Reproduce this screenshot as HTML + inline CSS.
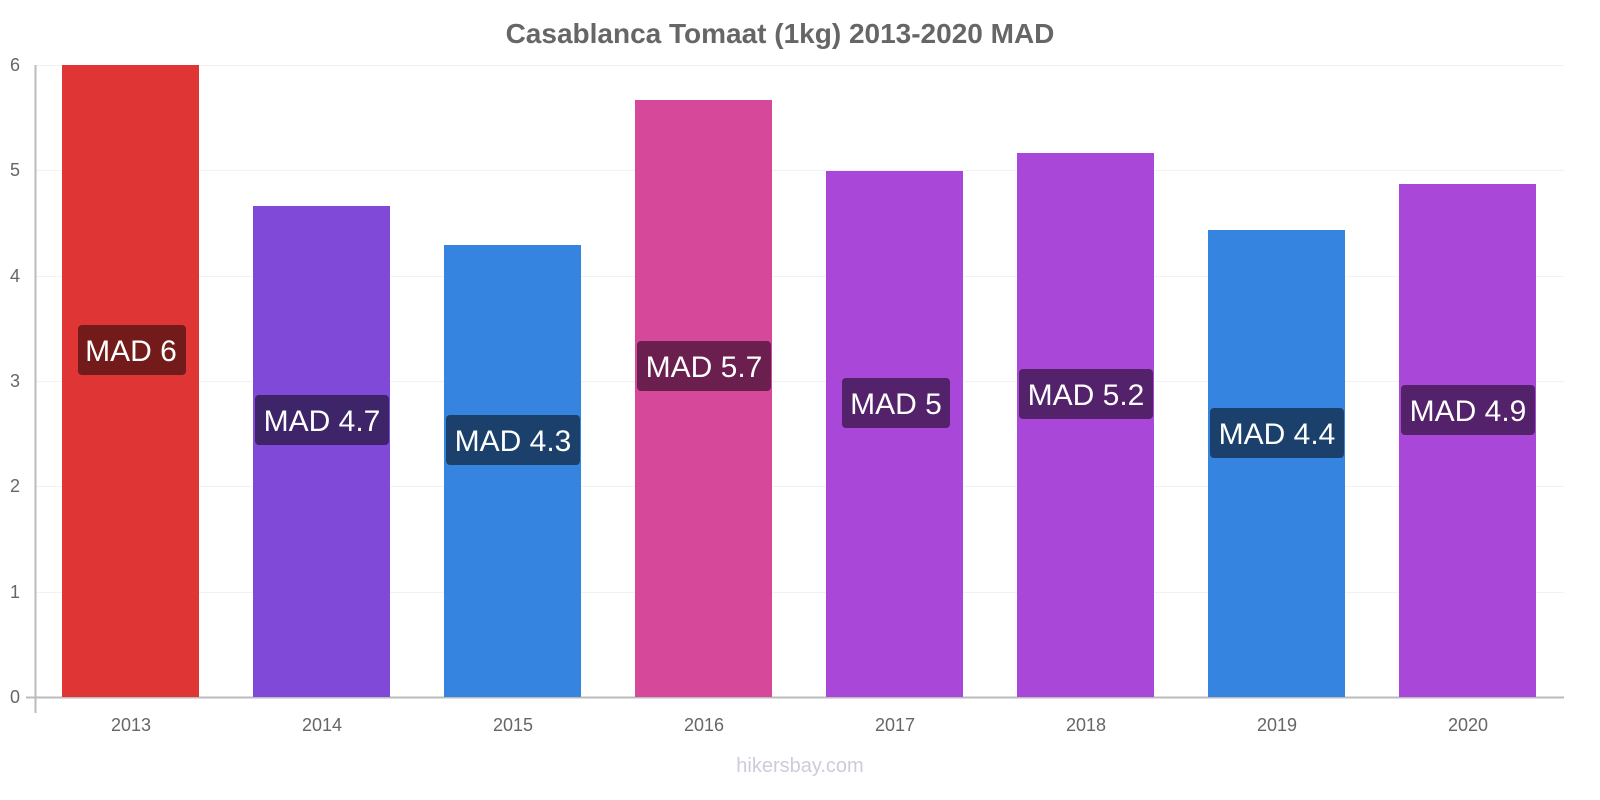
<!DOCTYPE html>
<html><head><meta charset="utf-8"><style>html,body{margin:0;padding:0;background:#fff;overflow:hidden;width:1600px;height:800px}svg{display:block;font-family:"Liberation Sans",sans-serif}</style></head><body>
<svg width="1600" height="800" xmlns="http://www.w3.org/2000/svg">
<text x="780" y="43" text-anchor="middle" font-size="28" font-weight="bold" fill="#666">Casablanca Tomaat (1kg) 2013-2020 MAD</text>
<g stroke="#f2f2f2" stroke-width="1">
<line x1="36" x2="1564" y1="65.5" y2="65.5"/><line x1="36" x2="1564" y1="170.5" y2="170.5"/><line x1="36" x2="1564" y1="276.5" y2="276.5"/><line x1="36" x2="1564" y1="381.5" y2="381.5"/><line x1="36" x2="1564" y1="486.5" y2="486.5"/><line x1="36" x2="1564" y1="592.5" y2="592.5"/>
</g>
<g font-size="18" fill="#666" text-anchor="end">
<text x="20" y="703">0</text><text x="20" y="598">1</text><text x="20" y="492">2</text><text x="20" y="387">3</text><text x="20" y="282">4</text><text x="20" y="176">5</text><text x="20" y="71">6</text>
</g>
<line x1="35.5" y1="65" x2="35.5" y2="713" stroke="#bbb" stroke-width="2"/>
<line x1="26" y1="697.5" x2="1564" y2="697.5" stroke="#bbb" stroke-width="2"/>
<rect x="62" y="65" width="137" height="632" fill="#e03535"/>
<rect x="253" y="206" width="137" height="491" fill="#8049d8"/>
<rect x="444" y="245" width="137" height="452" fill="#3584df"/>
<rect x="635" y="100" width="137" height="597" fill="#d6489a"/>
<rect x="826" y="171" width="137" height="526" fill="#a847d8"/>
<rect x="1017" y="153" width="137" height="544" fill="#a847d8"/>
<rect x="1208" y="230" width="137" height="467" fill="#3584df"/>
<rect x="1399" y="184" width="137" height="513" fill="#a847d8"/>
<g font-size="30" fill="#fff" text-anchor="middle">
<rect x="78" y="325" width="108" height="50" rx="4" fill="#731a1a"/><text x="131" y="361">MAD 6</text>
<rect x="255" y="395" width="134" height="50" rx="4" fill="#3e2468"/><text x="322" y="431">MAD 4.7</text>
<rect x="446" y="415" width="134" height="50" rx="4" fill="#1b406b"/><text x="513" y="451">MAD 4.3</text>
<rect x="637" y="341" width="134" height="50" rx="4" fill="#6b1f4f"/><text x="704" y="377">MAD 5.7</text>
<rect x="842" y="378" width="108" height="50" rx="4" fill="#53226b"/><text x="896" y="414">MAD 5</text>
<rect x="1019" y="369" width="134" height="50" rx="4" fill="#53226b"/><text x="1086" y="405">MAD 5.2</text>
<rect x="1210" y="408" width="134" height="50" rx="4" fill="#1b406b"/><text x="1277" y="444">MAD 4.4</text>
<rect x="1401" y="385" width="134" height="50" rx="4" fill="#53226b"/><text x="1468" y="421">MAD 4.9</text>
</g>
<g font-size="18" fill="#666" text-anchor="middle">
<text x="131" y="731">2013</text><text x="322" y="731">2014</text><text x="513" y="731">2015</text><text x="704" y="731">2016</text><text x="895" y="731">2017</text><text x="1086" y="731">2018</text><text x="1277" y="731">2019</text><text x="1468" y="731">2020</text>
</g>
<text x="800" y="772" text-anchor="middle" font-size="20" fill="#ccd">hikersbay.com</text>
</svg>
</body></html>
